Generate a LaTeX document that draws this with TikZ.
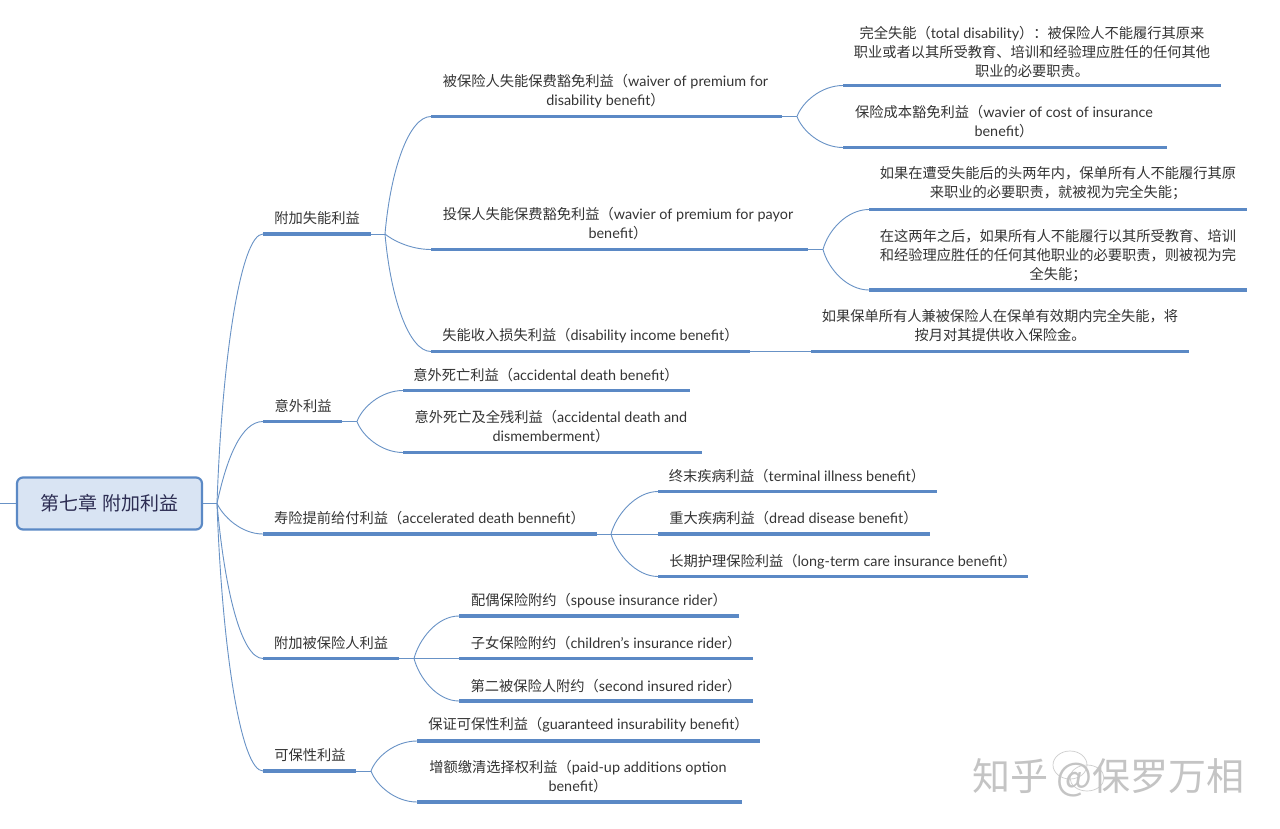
\documentclass[tikz,border=0pt]{standalone}
\usepackage{fontspec}
\setmainfont[Scale=1.01]{Lato}
\newfontfamily\cjk{Noto Sans CJK SC}
\newcommand{\zh}[1]{{\cjk #1}}
\definecolor{barblue}{RGB}{91, 137, 197}
\definecolor{linkblue}{RGB}{104, 146, 198}
\definecolor{rootfill}{RGB}{217, 228, 243}
\definecolor{inktext}{RGB}{52, 52, 52}
\definecolor{marktext}{RGB}{196, 196, 196}
\tikzset{
	bar/.style={rectangle, anchor=west, minimum height=3.6pt, fill=barblue},
	topic/.style={align=center, text=inktext, font=\fontsize{14.25}{19}\selectfont},
	link/.style={line width=0.9pt, color=linkblue},
	branch/.style={link, looseness=5, in=180, in max distance=22pt},
}

\begin{document}
\begin{tikzpicture}
		[x=1pt,y=-1pt,every node/.style={inner sep=0pt}]
		\useasboundingbox [fill=white] (0,0) rectangle (1280,829);
		% root
		\node (root) [rectangle, rounded corners=6pt, minimum width=185pt, minimum height=52pt, fill=rootfill, line width=2.2pt, draw=barblue, text=inktext!85!blue, font=\fontsize{19}{22}\selectfont] at (109.5,503.5) {\zh{第七章 附加利益}};
		\coordinate (rootin) at (0,503.5);
		\coordinate (hubroot) at (217,503.5);
		% first level bars
		\node (disb) [bar, minimum width=108pt] at (263,234) {};
		\node (accb) [bar, minimum width=79pt] at (263,421.5) {};
		\node (acdb) [bar, minimum width=334pt] at (263,534) {};
		\node (insb) [bar, minimum width=136pt] at (263,658.5) {};
		\node (guab) [bar, minimum width=93pt] at (263,771) {};
		\node (dist) [topic] at (317,218) {\zh{附加失能利益}};
		\node (acct) [topic] at (303,406) {\zh{意外利益}};
		\node (acdt) [topic] at (429.5,518.5) {\zh{寿险提前给付利益（}accelerated death bennefit\zh{）}};
		\node (inst) [topic] at (331,643) {\zh{附加被保险人利益}};
		\node (guat) [topic] at (310,755.5) {\zh{可保性利益}};
		\coordinate (hubdis) at (385,234);
		\coordinate (hubacc) at (357,421.5);
		\coordinate (hubacd) at (611,534);
		\coordinate (hubins) at (414,658.5);
		\coordinate (hubgua) at (371,771);
		% second level, disability
		\node (wpib) [bar, minimum width=351pt] at (431,116.5) {};
		\node (wpab) [bar, minimum width=377pt] at (431,249.5) {};
		\node (dibb) [bar, minimum width=319pt] at (431,351.5) {};
		\node (wpit) [topic] at (605.5,91) {\zh{被保险人失能保费豁免利益（}waiver of premium for\\disability benefit\zh{）}};
		\node (wpat) [topic] at (618,224) {\zh{投保人失能保费豁免利益（}wavier of premium for payor\\benefit\zh{）}};
		\node (dibt) [topic] at (590.5,336) {\zh{失能收入损失利益（}disability income benefit\zh{）}};
		\coordinate (hubwpi) at (797,116.5);
		\coordinate (hubwpa) at (823,249.5);
		% third level
		\node (totb) [bar, minimum width=378pt] at (843,85.5) {};
		\node (cosb) [bar, minimum width=324pt] at (843,147.5) {};
		\node (twob) [bar, minimum width=378pt] at (869,209.5) {};
		\node (aftb) [bar, minimum width=378pt] at (869,290) {};
		\node (monb) [bar, minimum width=378pt] at (811,351.5) {};
		\node (tott) [topic] at (1032,51.5) {\zh{完全失能（}total disability\zh{）：被保险人不能履行其原来}\\\zh{职业或者以其所受教育、培训和经验理应胜任的任何其他}\\\zh{职业的必要职责。}};
		\node (cost) [topic] at (1004,122) {\zh{保险成本豁免利益（}wavier of cost of insurance\\benefit\zh{）}};
		\node (twot) [topic] at (1058,183) {\zh{如果在遭受失能后的头两年内，保单所有人不能履行其原}\\\zh{来职业的必要职责，就被视为完全失能；}};
		\node (aftt) [topic] at (1058,255.5) {\zh{在这两年之后，如果所有人不能履行以其所受教育、培训}\\\zh{和经验理应胜任的任何其他职业的必要职责，则被视为完}\\\zh{全失能；}};
		\node (mont) [topic] at (1000,326) {\zh{如果保单所有人兼被保险人在保单有效期内完全失能，将}\\\zh{按月对其提供收入保险金。}};
		% second level, accident
		\node (addb) [bar, minimum width=287pt] at (403,390.5) {};
		\node (admb) [bar, minimum width=299pt] at (403,452.5) {};
		\node (addt) [topic] at (546,375) {\zh{意外死亡利益（}accidental death benefit\zh{）}};
		\node (admt) [topic] at (551,427) {\zh{意外死亡及全残利益（}accidental death and\\dismemberment\zh{）}};
		% second level, accelerated
		\node (terb) [bar, minimum width=279pt] at (658,491.5) {};
		\node (dreb) [bar, minimum width=272pt] at (658,534) {};
		\node (ltcb) [bar, minimum width=370pt] at (658,576.5) {};
		\node (tert) [topic] at (797,476) {\zh{终末疾病利益（}terminal illness benefit\zh{）}};
		\node (dret) [topic] at (793.5,518.5) {\zh{重大疾病利益（}dread disease benefit\zh{）}};
		\node (ltct) [topic] at (843,561.5) {\zh{长期护理保险利益（}long-term care insurance benefit\zh{）}};
		% second level, insured
		\node (spob) [bar, minimum width=280pt] at (459,616) {};
		\node (chib) [bar, minimum width=294pt] at (459,658.5) {};
		\node (secb) [bar, minimum width=294pt] at (459,701) {};
		\node (spot) [topic] at (599,600.5) {\zh{配偶保险附约（}spouse insurance rider\zh{）}};
		\node (chit) [topic] at (606,643) {\zh{子女保险附约（}children's insurance rider\zh{）}};
		\node (sect) [topic] at (606,686) {\zh{第二被保险人附约（}second insured rider\zh{）}};
		% second level, insurability
		\node (gibb) [bar, minimum width=343pt] at (417,741) {};
		\node (puab) [bar, minimum width=325pt] at (417,802) {};
		\node (gibt) [topic] at (588.5,725) {\zh{保证可保性利益（}guaranteed insurability benefit\zh{）}};
		\node (puat) [topic] at (578,777) {\zh{增额缴清选择权利益（}paid-up additions option\\benefit\zh{）}};
		% stubs
		\draw [link] (rootin) to (root.west);
		\draw [link] (root.east) to (hubroot);
		\draw [link] (disb.east) to (hubdis);
		\draw [link] (accb.east) to (hubacc);
		\draw [link] (acdb.east) to (hubacd);
		\draw [link] (insb.east) to (hubins);
		\draw [link] (guab.east) to (hubgua);
		\draw [link] (wpib.east) to (hubwpi);
		\draw [link] (wpab.east) to (hubwpa);
		\draw [link] (dibb.east) to (monb.west);
		% branches
		\draw [branch] (hubroot) to[out=88,out max distance=148pt] (disb.west);
		\draw [branch] (hubroot) to[out=78,out max distance=45pt] (accb.west);
		\draw [branch] (hubroot) to[out=-65,out max distance=14pt] (acdb.west);
		\draw [branch] (hubroot) to[out=-85,out max distance=85pt] (insb.west);
		\draw [branch] (hubroot) to[out=-88,out max distance=147pt] (guab.west);
		\draw [branch] (hubdis) to[out=85,out max distance=65pt] (wpib.west);
		\draw [branch] (hubdis) to[out=-40,out max distance=8pt] (wpab.west);
		\draw [branch] (hubdis) to[out=-85,out max distance=65pt] (dibb.west);
		\draw [branch] (hubwpi) to[out=70,out max distance=15pt] (totb.west);
		\draw [branch] (hubwpi) to[out=-70,out max distance=15pt] (cosb.west);
		\draw [branch] (hubwpa) to[out=75,out max distance=20pt] (twob.west);
		\draw [branch] (hubwpa) to[out=-75,out max distance=20pt] (aftb.west);
		\draw [branch] (hubacc) to[out=70,out max distance=15pt] (addb.west);
		\draw [branch] (hubacc) to[out=-70,out max distance=15pt] (admb.west);
		\draw [branch] (hubacd) to[out=75,out max distance=20pt] (terb.west);
		\draw [link] (hubacd) to (dreb.west);
		\draw [branch] (hubacd) to[out=-75,out max distance=20pt] (ltcb.west);
		\draw [branch] (hubins) to[out=75,out max distance=20pt] (spob.west);
		\draw [link] (hubins) to (chib.west);
		\draw [branch] (hubins) to[out=-75,out max distance=20pt] (secb.west);
		\draw [branch] (hubgua) to[out=70,out max distance=15pt] (gibb.west);
		\draw [branch] (hubgua) to[out=-70,out max distance=15pt] (puab.west);
		% watermark
		\draw [line width=0.7pt, color=marktext!85] (1070,765) ellipse (17pt and 14pt);
		\draw [line width=0.7pt, color=marktext!85] (1087,778) ellipse (17pt and 13pt);
		\node (mark) [text=marktext, font=\fontsize{38}{40}\selectfont] at (1108.5,778) {\zh{知乎 @保罗万相}};
\end{tikzpicture}
\end{document}
